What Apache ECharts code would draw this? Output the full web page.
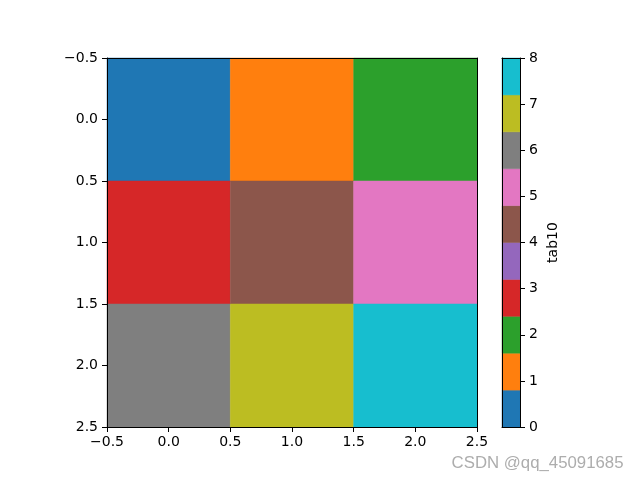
<!DOCTYPE html>
<html>
<head>
<meta charset="utf-8">
<script src="https://cdn.jsdelivr.net/npm/echarts@6/dist/echarts.min.js"></script>
<style>
  html, body { margin: 0; padding: 0; background: #fff; }
  #main { width: 640px; height: 480px; }
</style>
</head>
<body>
<div id="main"></div>
<script>
// 3x3 image, value per cell (row = y, col = x)
var xCells = [0, 1, 2];
var yCells = [0, 1, 2];
var cellValues = [
  [0, 1, 2],
  [3, 4, 5],
  [6, 7, 8]
];
// tab10 colormap
var tab10 = ["#1f77b4", "#ff7f0e", "#2ca02c", "#d62728", "#9467bd",
             "#8c564b", "#e377c2", "#7f7f7f", "#bcbd22", "#17becf"];
var vMin = 0, vMax = 8;
// colorbar band edges (10 bands over 0..8)
var cbEdges = [0, 0.8, 1.6, 2.4, 3.2, 4.0, 4.8, 5.6, 6.4, 7.2, 8.0];
var cbLabel = "tab10";
var watermark = "CSDN @qq_45091685";

function colorOf(v) {
  var idx = Math.floor((v - vMin) / (vMax - vMin) * tab10.length);
  if (idx > tab10.length - 1) idx = tab10.length - 1;
  if (idx < 0) idx = 0;
  return tab10[idx];
}

var cellData = [];
yCells.forEach(function (y, i) {
  xCells.forEach(function (x, j) {
    cellData.push([x, y, cellValues[i][j]]);
  });
});
var bandData = [];
for (var k = 0; k < cbEdges.length - 1; k++) {
  bandData.push([cbEdges[k], cbEdges[k + 1], k]);
}

var font = "DejaVu Sans";
var fmt = function (v) {
  var s = v.toFixed(1);
  return s.replace("-", "\u2212");
};
var labelStyle = { color: "#000", fontSize: 14, fontFamily: font };
var tickStyle = { show: true, inside: false, length: 5, lineStyle: { color: "#000", width: 1 } };
var lineStyle = { show: true, onZero: false, lineStyle: { color: "#000", width: 1 } };

var myChart = echarts.init(document.getElementById("main"));
var option = {
  backgroundColor: "#fff",
  animation: false,
  grid: [
    { left: 107, top: 58, width: 370, height: 369 },
    { left: 502, top: 58, width: 18, height: 369 }
  ],
  xAxis: [
    {
      gridIndex: 0, type: "value", min: -0.5, max: 2.5, interval: 0.5, z: 10,
      axisLine: lineStyle, axisTick: tickStyle,
      axisLabel: Object.assign({ margin: 8, formatter: fmt }, labelStyle),
      splitLine: { show: false }
    },
    {
      gridIndex: 0, type: "value", position: "top", min: -0.5, max: 2.5, z: 10,
      axisLine: lineStyle, axisTick: { show: false }, axisLabel: { show: false },
      splitLine: { show: false }
    },
    {
      gridIndex: 1, type: "value", min: 0, max: 1, z: 10,
      axisLine: lineStyle, axisTick: { show: false }, axisLabel: { show: false },
      splitLine: { show: false }
    },
    {
      gridIndex: 1, type: "value", position: "top", min: 0, max: 1, z: 10,
      axisLine: lineStyle, axisTick: { show: false }, axisLabel: { show: false },
      splitLine: { show: false }
    }
  ],
  yAxis: [
    {
      gridIndex: 0, type: "value", inverse: true, min: -0.5, max: 2.5, interval: 0.5, z: 10,
      axisLine: lineStyle, axisTick: tickStyle,
      axisLabel: Object.assign({ margin: 9, formatter: fmt }, labelStyle),
      splitLine: { show: false }
    },
    {
      gridIndex: 0, type: "value", position: "right", inverse: true, min: -0.5, max: 2.5, z: 10,
      axisLine: lineStyle, axisTick: { show: false }, axisLabel: { show: false },
      splitLine: { show: false }
    },
    {
      gridIndex: 1, type: "value", position: "left", min: 0, max: 8, z: 10,
      axisLine: lineStyle, axisTick: { show: false }, axisLabel: { show: false },
      splitLine: { show: false }
    },
    {
      gridIndex: 1, type: "value", position: "right", min: 0, max: 8, interval: 1, z: 10,
      axisLine: lineStyle, axisTick: tickStyle,
      axisLabel: Object.assign({ margin: 9 }, labelStyle),
      splitLine: { show: false },
      name: cbLabel, nameLocation: "middle", nameRotate: 90, nameGap: 26,
      nameTextStyle: { color: "#000", fontSize: 14, fontFamily: font }
    }
  ],
  series: [
    {
      type: "custom",
      xAxisIndex: 0, yAxisIndex: 0,
      data: cellData,
      renderItem: function (params, api) {
        var x = api.value(0), y = api.value(1), v = api.value(2);
        var p0 = api.coord([x - 0.5, y - 0.5]);
        var p1 = api.coord([x + 0.5, y + 0.5]);
        return {
          type: "rect",
          shape: {
            x: Math.min(p0[0], p1[0]), y: Math.min(p0[1], p1[1]),
            width: Math.abs(p1[0] - p0[0]), height: Math.abs(p1[1] - p0[1])
          },
          style: { fill: colorOf(v), stroke: colorOf(v), lineWidth: 0.5 }
        };
      }
    },
    {
      type: "custom",
      xAxisIndex: 2, yAxisIndex: 3,
      data: bandData,
      renderItem: function (params, api) {
        var lo = api.value(0), hi = api.value(1), c = tab10[api.value(2)];
        var p0 = api.coord([0, hi]);
        var p1 = api.coord([1, lo]);
        return {
          type: "rect",
          shape: { x: p0[0], y: p0[1], width: p1[0] - p0[0], height: p1[1] - p0[1] },
          style: { fill: c, stroke: c, lineWidth: 0.5 }
        };
      }
    }
  ],
  graphic: [
    {
      type: "text", right: 16, bottom: 8, z: 100,
      style: {
        text: watermark, fill: "#adadad", fontSize: 16.8,
        fontFamily: "Liberation Sans", textBorderColor: "rgba(255,255,255,0.6)", textBorderWidth: 1
      }
    }
  ]
};
myChart.setOption(option);
window.addEventListener("resize", function () {
  myChart.resize();
});
</script>
</body>
</html>
